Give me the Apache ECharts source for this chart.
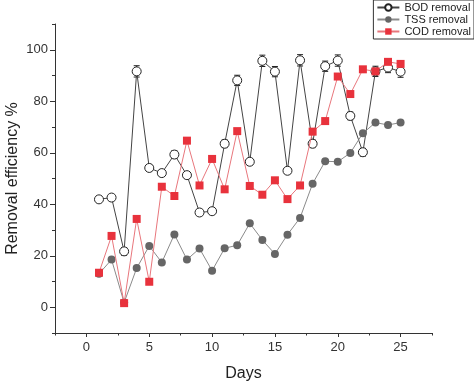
<!DOCTYPE html>
<html>
<head>
<meta charset="utf-8">
<script src="https://cdn.jsdelivr.net/npm/echarts@6/dist/echarts.min.js"></script>
<style>html,body{margin:0;padding:0;background:#fff}#c{width:474px;height:384px}</style>
</head>
<body>
<div id="c"></div>
<script>
var days = [1,2,3,4,5,6,7,8,9,10,11,12,13,14,15,16,17,18,19,20,21,22,23,24,25];
var bod = [41.9,42.6,21.7,91.6,54.1,52.1,59.3,51.3,36.8,37.3,63.5,88.1,56.5,95.7,91.5,53.0,95.9,63.5,93.6,95.8,74.3,60.2,91.6,93.1,91.5];
var bodErr = [1.2,1.2,1.5,2.2,1.2,1.2,1.5,1.2,1.2,1.2,1.5,2.0,1.2,2.2,2.0,1.2,2.2,1.5,2.0,2.2,1.5,1.5,2.0,2.0,2.2];
var tss = [13.0,18.5,1.8,15.2,23.8,17.4,28.3,18.5,22.8,14.2,22.9,24.1,32.6,26.1,20.7,28.2,34.7,48.0,56.7,56.5,59.9,67.6,71.7,70.8,71.7];
var cod = [13.4,27.7,1.6,34.3,9.9,46.8,43.2,64.7,47.3,57.6,45.8,68.4,47.1,43.7,49.3,42.0,47.3,68.2,72.3,89.6,82.8,92.4,91.6,95.3,94.5];
var xMajorTicks = [0,5,10,15,20,25];
var xMinorTicks = [-2.5,2.5,7.5,12.5,17.5,22.5,27.5];
var yMajorTicks = [0,20,40,60,80,100];
var yMinorTicks = [-10,10,30,50,70,90,110];

function pairs(xs, ys){ return xs.map(function(x,i){ return [x, ys[i]]; }); }
var errData = days.map(function(d,i){ return [d, bod[i]-bodErr[i], bod[i]+bodErr[i]]; });

var font = 'Liberation Sans, Arial, sans-serif';
var chart = echarts.init(document.getElementById('c'));
chart.setOption({
  animation: false,
  textStyle: {fontFamily: font},
  grid: {left: 55, right: 42, top: 24, bottom: 51, containLabel: false, outerBoundsMode: 'none'},
  legend: {
    right: 0, top: 0, orient: 'vertical',
    borderColor: '#333', borderWidth: 1, borderRadius: 0,
    padding: [2, 3, 2, 3], itemGap: 1, itemWidth: 22, itemHeight: 8,
    textStyle: {fontSize: 11, color: '#222', fontFamily: font},
    data: ['BOD removal','TSS removal','COD removal']
  },
  xAxis: [{
    type: 'value', min: -2.5, max: 27.5, interval: 2.5,
    name: 'Days', nameLocation: 'middle', nameGap: 33, nameMoveOverlap: false,
    nameTextStyle: {fontSize: 16, color: '#222', fontFamily: font},
    axisLine: {show: true, onZero: false, lineStyle: {color: '#333', width: 1}},
    axisTick: {show: true, length: 4, customValues: xMajorTicks, lineStyle: {color: '#333'}},
    axisLabel: {fontSize: 13, color: '#333', margin: 8, customValues: xMajorTicks},
    splitLine: {show: false}
  },{
    type: 'value', min: -2.5, max: 27.5, interval: 2.5, position: 'bottom',
    axisLine: {show: false, onZero: false},
    axisTick: {show: true, length: 2.5, customValues: xMinorTicks, lineStyle: {color: '#333'}},
    axisLabel: {show: false},
    splitLine: {show: false}
  }],
  yAxis: [{
    type: 'value', min: -10, max: 110, interval: 10,
    name: 'Removal efficiency %', nameLocation: 'middle', nameGap: 34, nameMoveOverlap: false,
    nameTextStyle: {fontSize: 16, color: '#222', fontFamily: font},
    axisLine: {show: true, onZero: false, lineStyle: {color: '#333', width: 1}},
    axisTick: {show: true, length: 5, customValues: yMajorTicks, lineStyle: {color: '#333'}},
    axisLabel: {fontSize: 13, color: '#333', margin: 7, customValues: yMajorTicks},
    splitLine: {show: false}
  },{
    type: 'value', min: -10, max: 110, interval: 10, position: 'left',
    axisLine: {show: false, onZero: false},
    axisTick: {show: true, length: 3, customValues: yMinorTicks, lineStyle: {color: '#333'}},
    axisLabel: {show: false},
    splitLine: {show: false}
  }],
  series: [
    {
      name: 'BOD removal', type: 'line', data: pairs(days, bod),
      symbol: 'circle', symbolSize: 9, showAllSymbol: true,
      lineStyle: {color: '#444', width: 1},
      itemStyle: {color: '#fff', borderColor: '#222', borderWidth: 1},
      z: 3
    },
    {
      type: 'custom', name: 'BOD err', data: errData, z: 2,
      renderItem: function(params, api){
        var x = api.value(0);
        var lo = api.coord([x, api.value(1)]);
        var hi = api.coord([x, api.value(2)]);
        var w = 3;
        var st = {stroke: '#222', lineWidth: 1};
        return {type: 'group', children: [
          {type: 'line', shape: {x1: lo[0], y1: lo[1], x2: hi[0], y2: hi[1]}, style: st},
          {type: 'line', shape: {x1: lo[0]-w, y1: lo[1], x2: lo[0]+w, y2: lo[1]}, style: st},
          {type: 'line', shape: {x1: hi[0]-w, y1: hi[1], x2: hi[0]+w, y2: hi[1]}, style: st}
        ]};
      }
    },
    {
      name: 'TSS removal', type: 'line', data: pairs(days, tss),
      symbol: 'circle', symbolSize: 8, showAllSymbol: true,
      lineStyle: {color: '#8a8a8a', width: 1},
      itemStyle: {color: '#666', borderColor: '#666', borderWidth: 0},
      z: 4
    },
    {
      name: 'COD removal', type: 'line', data: pairs(days, cod),
      symbol: 'rect', symbolSize: 8, showAllSymbol: true,
      lineStyle: {color: '#e8767c', width: 1},
      itemStyle: {color: '#e8323c', borderWidth: 0},
      z: 5
    }
  ]
});
</script>
</body>
</html>
